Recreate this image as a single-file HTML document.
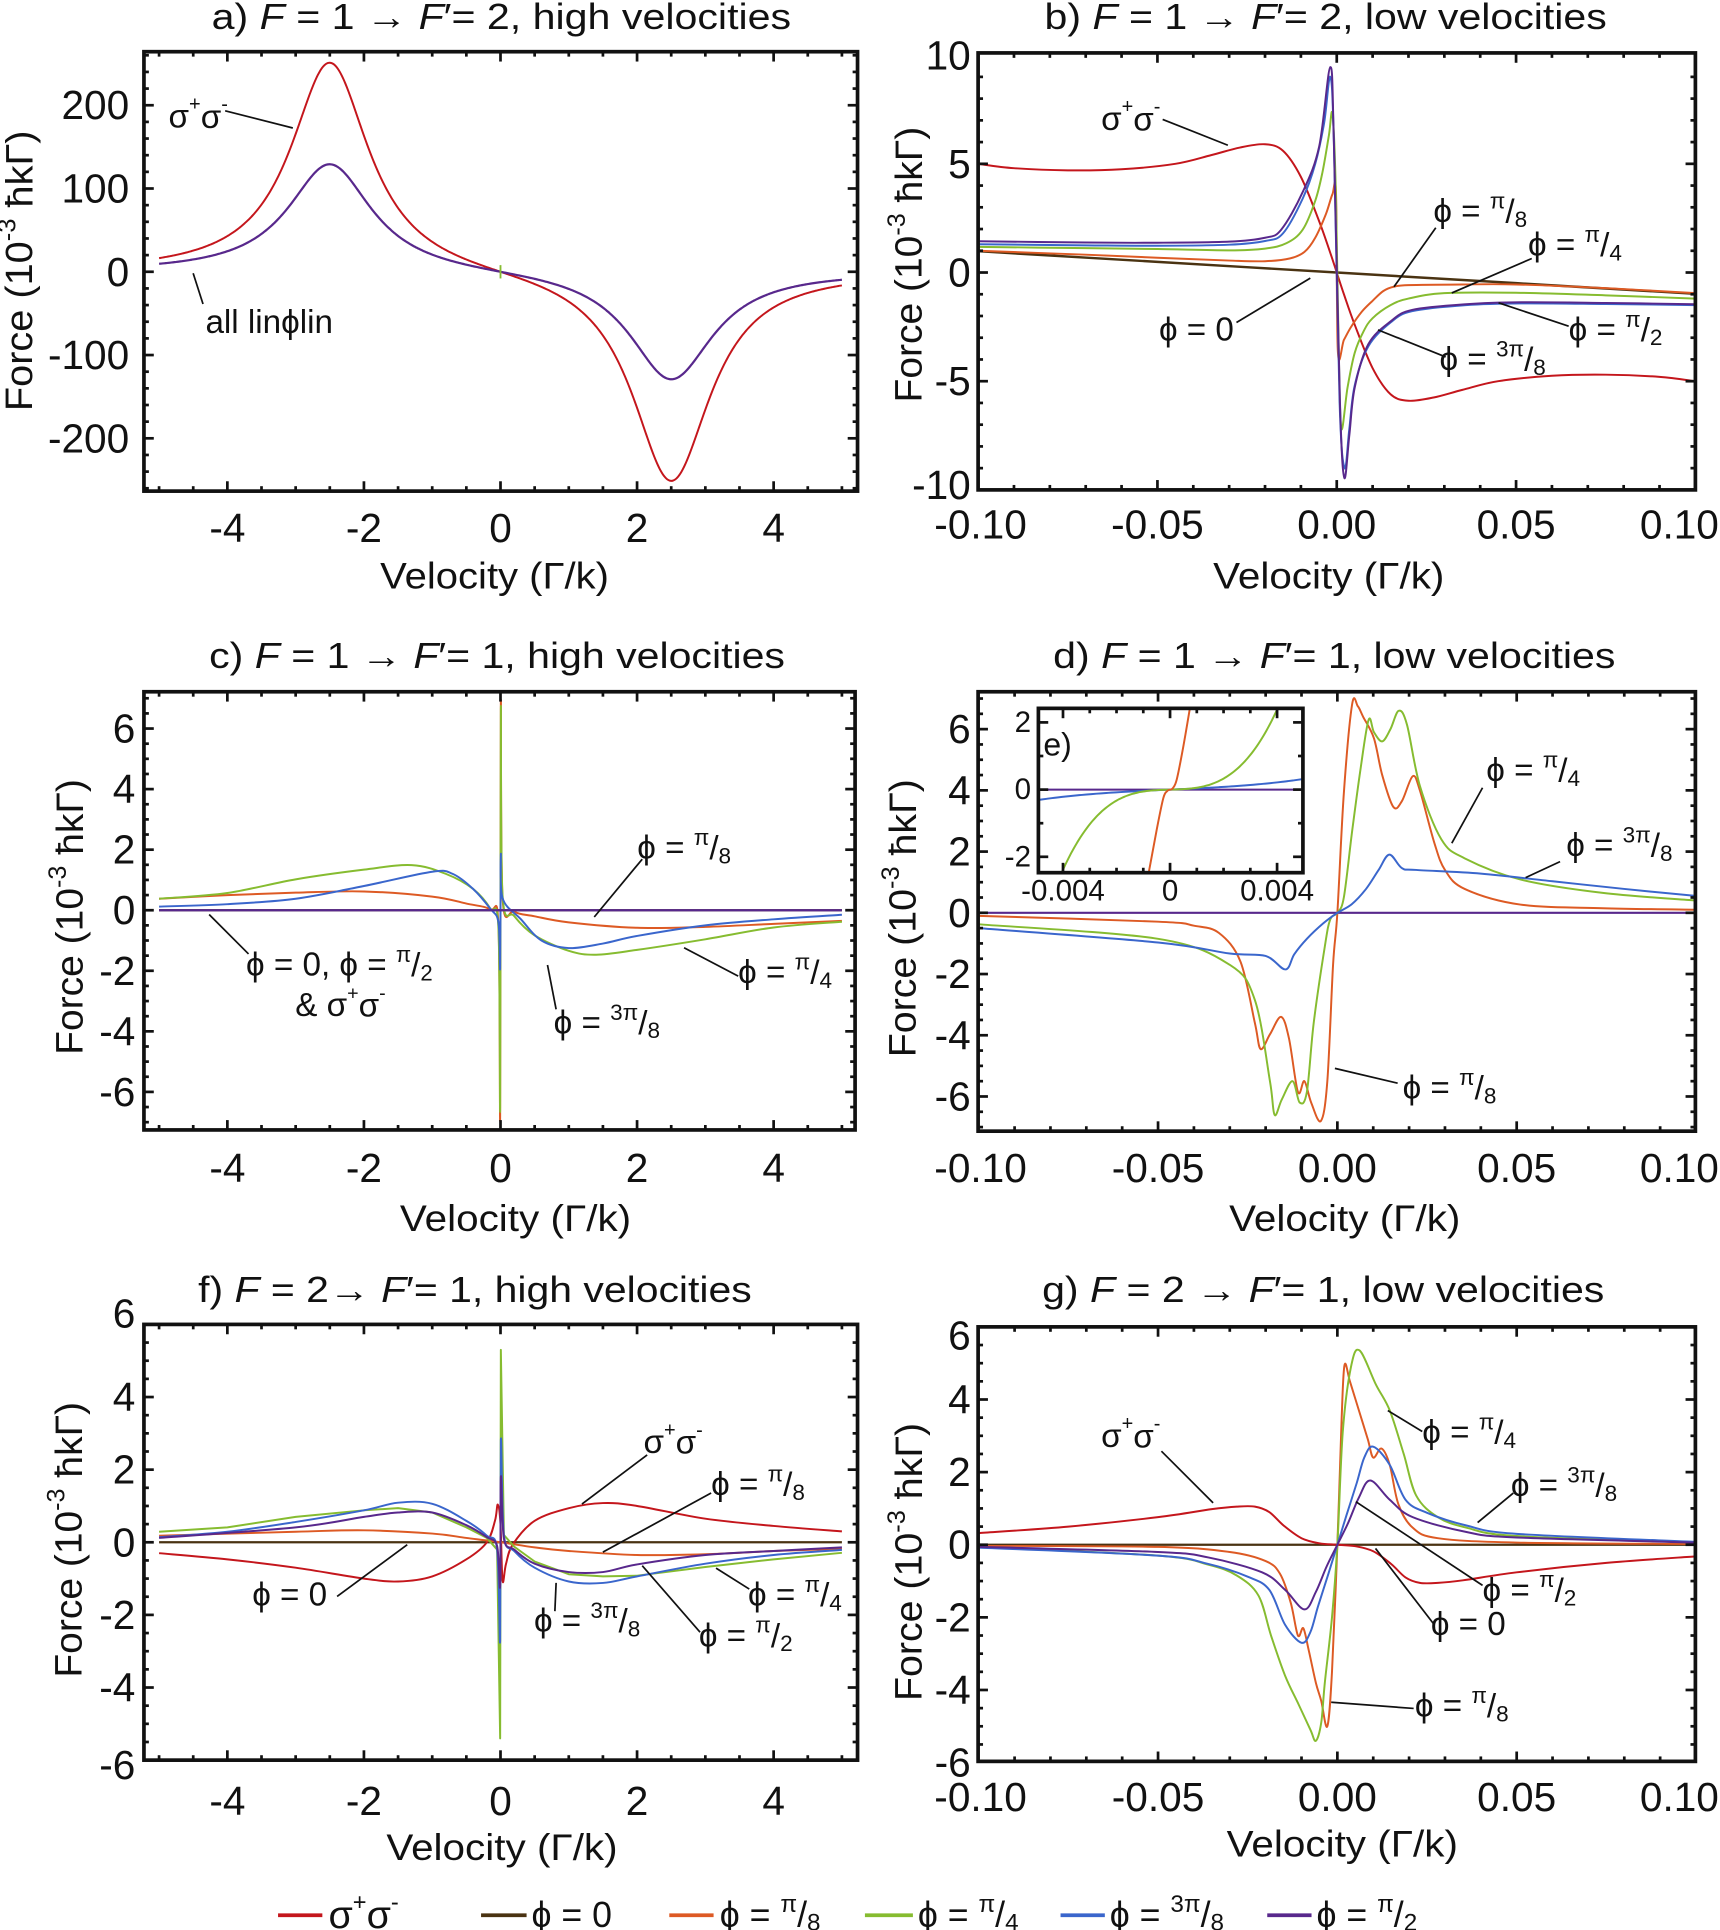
<!DOCTYPE html>
<html><head><meta charset="utf-8"><style>
html,body{margin:0;padding:0;background:#fff;}
svg{display:block;}
text{font-family:"Liberation Sans",Arial,sans-serif;fill:#111;}
</style></head><body>
<svg id="s" width="1720" height="1930" viewBox="0 0 1398 1568" preserveAspectRatio="none" xmlns="http://www.w3.org/2000/svg">
<defs id="defs"></defs>
<g id="g"></g>
</svg>
<script>
const NS="http://www.w3.org/2000/svg";
const G=document.getElementById('g'), D=document.getElementById('defs');
function el(t,a,p){const e=document.createElementNS(NS,t);for(const k in a)e.setAttribute(k,a[k]);(p||G).appendChild(e);return e;}
const C={red:"#c4161c",brown:"#4a3312",orange:"#dd5a24",green:"#86bc30",blue:"#3a66cc",purple:"#58288c"};
function panel(o){
  o.X=v=>o.x0+v*o.sx; o.Y=v=>o.y0-v*o.sy; return o;
}
function path(P,pts,col,w,par,smooth=true){
  const p=pts.map(q=>[P.X(q[0]),P.Y(q[1])]);
  let d="M"+p[0][0].toFixed(2)+","+p[0][1].toFixed(2);
  for(let i=0;i<p.length-1;i++){
    if(!smooth){d+="L"+p[i+1][0].toFixed(2)+","+p[i+1][1].toFixed(2);continue;}
    const a=p[Math.max(0,i-1)],b=p[i],c=p[i+1],e=p[Math.min(p.length-1,i+2)];
    const c1=[b[0]+(c[0]-a[0])/6,b[1]+(c[1]-a[1])/6],c2=[c[0]-(e[0]-b[0])/6,c[1]-(e[1]-b[1])/6];
    d+="C"+c1.map(v=>v.toFixed(2))+" "+c2.map(v=>v.toFixed(2))+" "+c[0].toFixed(2)+","+c[1].toFixed(2);
  }
  el('path',{d:d,fill:'none',stroke:col,'stroke-width':w||1.5,'clip-path':'url(#'+P.id+')','stroke-linejoin':'round'},par);
}
function fn(f,a,b,n){const r=[];for(let i=0;i<=n;i++){const x=a+(b-a)*i/n;r.push([x,f(x)]);}return r;}
function frame(P){
  const [l,t,r,b]=P.f;
  const cp=el('clipPath',{id:P.id},D); el('rect',{x:l,y:t,width:r-l,height:b-t},cp);
}
function drawFrame(P,xt,xminor,yt,yminor,fs,xly,yfix,ylabx,fmt,xfix){
  const [l,t,r,b]=P.f;
  el('rect',{x:l,y:t,width:r-l,height:b-t,fill:'none',stroke:'#111','stroke-width':3});
  const eps=1e-9;
  for(let v=xminor[0];v<=xminor[1]+eps;v+=xminor[2]){
    const X=P.X(v); if(X<l+2||X>r-2)continue;
    const maj=xt.some(m=>Math.abs(m-v)<xminor[2]/3); const L=maj?8:4;
    el('line',{x1:X,y1:b,x2:X,y2:b-L,stroke:'#111','stroke-width':2.2});
    el('line',{x1:X,y1:t,x2:X,y2:t+L,stroke:'#111','stroke-width':2.2});
  }
  for(let v=yminor[0];v<=yminor[1]+eps;v+=yminor[2]){
    const Y=P.Y(v); if(Y<t+2||Y>b-2)continue;
    const maj=yt.some(m=>Math.abs(m-v)<yminor[2]/3); const L=maj?8:4;
    el('line',{x1:l,y1:Y,x2:l+L,y2:Y,stroke:'#111','stroke-width':2.2});
    el('line',{x1:r,y1:Y,x2:r-L,y2:Y,stroke:'#111','stroke-width':2.2});
  }
  xt.forEach(v=>{const s=fmt?fmt(v):String(v);
    const X=(xfix&&xfix[v]!==undefined)?xfix[v]:P.X(v);
    el('text',{x:X,y:xly,'font-size':fs,'text-anchor':'middle','dominant-baseline':'central'}).textContent=s;});
  yt.forEach(v=>{const Y=(yfix&&yfix[v]!==undefined)?yfix[v]:P.Y(v);
    el('text',{x:ylabx,y:Y,'font-size':fs,'text-anchor':'end','dominant-baseline':'central'}).textContent=String(v);});
}
function title(x1,x2,y,html){
  const t=el('text',{x:x1,y:y,'font-size':29,'dominant-baseline':'central',textLength:x2-x1,lengthAdjust:'spacingAndGlyphs'});
  t.innerHTML=html;
}
function T(lbl,a,b,rest,arrowSp){return lbl+' <tspan font-style="italic">F</tspan> = '+a+(arrowSp===false?'→ ':' → ')+'<tspan font-style="italic">F</tspan>′= '+b+', '+rest;}
function xlabel(x1,x2,y){el('text',{x:x1,y:y,'font-size':30,'dominant-baseline':'central',textLength:x2-x1,lengthAdjust:'spacingAndGlyphs'}).textContent="Velocity (Γ/k)";}
function ylabel(cx,cy,len){
  const t=el('text',{x:0,y:0,'font-size':31,'text-anchor':'middle','dominant-baseline':'central',transform:`translate(${cx},${cy}) rotate(-90)`,textLength:len,lengthAdjust:'spacingAndGlyphs'});
  t.innerHTML='Force (10<tspan font-size="20" dy="-10">-3</tspan><tspan dy="10"> ħkΓ)</tspan>';
}
function phi(x,y,num,den,fs){fs=fs||27;
  const t=el('text',{x:x,y:y,'font-size':fs,'dominant-baseline':'central'});
  if(den===null){t.textContent='ϕ = '+num;return t;}
  t.innerHTML='ϕ = <tspan font-size="'+(fs*0.68)+'" dy="-9">'+num+'</tspan><tspan dy="9">/</tspan><tspan font-size="'+(fs*0.68)+'" dy="6">'+den+'</tspan>';
  return t;
}
function sig(x,y,fs){fs=fs||27;const t=el('text',{x:x,y:y,'font-size':fs,'dominant-baseline':'central'});
  t.innerHTML='σ<tspan font-size="'+(fs*0.6)+'" dy="-10">+</tspan><tspan dy="10">σ</tspan><tspan font-size="'+(fs*0.6)+'" dy="-10">-</tspan>';}
function lead(x1,y1,x2,y2){el('line',{x1,y1,x2,y2,stroke:'#111','stroke-width':1.4});}
function sym(pts){const r=pts.slice(); for(let i=pts.length-1;i>=0;i--){if(pts[i][0]<0)r.push([-pts[i][0],-pts[i][1]]);} return r;}
const rfix={'-0.1':797,'0.1':1365};
const f2=v=>v.toFixed(2);

// ---------- Panel a ----------
const A=panel({id:'ca',x0:406.8,sx:55.5,y0:220.8,sy:0.6765,f:[117,42,697,399]});
frame(A);
const L=(u,w)=>1/(1+(u/w)*(u/w));
path(A,fn(v=>256*(L(v+2.5,0.7)-L(v-2.5,0.7)),-5,5,400),C.red,1.6);
path(A,fn(v=>132*(L(v+2.5,0.75)-L(v-2.5,0.75)),-5,5,400),C.purple,1.8);
path(A,[[0,8],[0,-8]],C.green,1.5,null,false);
drawFrame(A,[-4,-2,0,2,4],[-5,5,0.5],[200,100,0,-100,-200],[-260,260,20],33,429,null,105);
title(172,643,14,T('a)','1','2','high velocities'));
xlabel(309,495,468); ylabel(16,220,228);
sig(137,95); lead(183,90,238,104);
el('text',{x:167,y:262,'font-size':27,'dominant-baseline':'central'}).textContent='all linϕlin';
lead(157,222,165,247);

// ---------- Panel b ----------
const B=panel({id:'cb',x0:1086.5,sx:2915,y0:221.4,sy:17.66,f:[795,43,1378,398]});
frame(B);
path(B,fn(v=>-9.8*v,-0.1,0.1,4),C.brown,2);
path(B,sym([[-0.1,5.0],[-0.09,4.8],[-0.075,4.7],[-0.06,4.75],[-0.045,5.0],[-0.035,5.4],[-0.027,5.75],[-0.02,5.9],[-0.015,5.6],[-0.01,4.4],[-0.005,2.4],[-0.002,1.0],[0,0]]),C.red,1.6);
path(B,[[-0.1,1.0],[-0.07,0.82],[-0.05,0.68],[-0.03,0.55],[-0.02,0.52],[-0.013,0.65],[-0.009,0.95],[-0.006,1.6],[-0.003,2.7],[-0.0012,3.6],[-0.0002,3.6],[0.0003,-3.6],[0.002,-3.1],[0.004,-2.5],[0.007,-1.8],[0.01,-1.3],[0.013,-0.85],[0.016,-0.65],[0.02,-0.58],[0.035,-0.55],[0.05,-0.55],[0.075,-0.72],[0.1,-0.95]],C.orange,1.6);
path(B,[[-0.1,1.18],[-0.07,1.12],[-0.05,1.08],[-0.03,1.02],[-0.02,1.1],[-0.014,1.35],[-0.0095,1.97],[-0.006,3.3],[-0.004,4.6],[-0.0022,6.3],[-0.0012,7.3],[-0.0003,4],[0.0006,-4],[0.0013,-7.2],[0.003,-5.3],[0.005,-3.7],[0.0075,-2.7],[0.01,-2.1],[0.015,-1.5],[0.02,-1.2],[0.03,-0.95],[0.05,-0.93],[0.075,-1.05],[0.1,-1.2]],C.green,1.6);
path(B,[[-0.1,1.3],[-0.07,1.25],[-0.05,1.23],[-0.03,1.28],[-0.02,1.45],[-0.015,1.8],[-0.0095,3.4],[-0.006,5.0],[-0.0035,6.9],[-0.0018,9.0],[-0.0008,6],[0.0008,-6],[0.0022,-9.0],[0.0035,-7.2],[0.005,-5.2],[0.0088,-3.4],[0.015,-2.3],[0.021,-1.78],[0.036,-1.5],[0.0515,-1.42],[0.075,-1.45],[0.1,-1.5]],C.blue,1.6);
path(B,[[-0.1,1.44],[-0.07,1.38],[-0.05,1.37],[-0.03,1.42],[-0.02,1.6],[-0.0155,1.97],[-0.0095,3.7],[-0.0049,5.8],[-0.0018,9.45],[-0.0008,6],[0.0009,-6],[0.0021,-9.44],[0.0035,-7.5],[0.005,-5.3],[0.0088,-3.3],[0.015,-2.25],[0.021,-1.72],[0.036,-1.46],[0.0515,-1.37],[0.075,-1.4],[0.1,-1.46]],C.purple,1.6);
drawFrame(B,[-0.1,-0.05,0,0.05,0.1],[-0.1,0.1,0.01],[10,5,0,-5,-10],[-10,10,1],33,426,{10:45,'-10':394},789,f2,rfix);
title(849,1306,14,T('b)','1','2','low velocities'));
xlabel(986,1174,468); ylabel(739,215,224);
sig(895,97); lead(945,97,998,118);
phi(1165,172,'π','8'); lead(1167,185,1133,233);
phi(1242,199,'π','4'); lead(1245,210,1180,238);
phi(942,268,'0',null); lead(1005,262,1065,226);
phi(1275,268,'π','2'); lead(1275,265,1218,246);
phi(1170,292,'3π','8'); lead(1175,290,1120,268);

// ---------- Panel c ----------
const Cc=panel({id:'cc',x0:406.8,sx:55.5,y0:739.5,sy:24.6,f:[117,562,695,918]});
frame(Cc);
path(Cc,[[-5,0],[5,0]],C.brown,1.8,null,false);
path(Cc,[[-5,0.38],[-4,0.5],[-3,0.58],[-2,0.62],[-1,0.45],[-0.5,0.22],[-0.15,0.02],[-0.03,-0.5],[-0.005,-6.8],[0.005,6.8],[0.03,0.4],[0.2,-0.05],[0.5,-0.2],[1,-0.4],[2,-0.58],[3,-0.55],[4,-0.45],[5,-0.35]],C.orange,1.6);
path(Cc,[[-5,0.38],[-4,0.57],[-3,1.02],[-2,1.34],[-1.3,1.49],[-0.8,1.2],[-0.4,0.7],[-0.15,0.06],[-0.03,-0.6],[-0.005,-6.5],[0.005,6.6],[0.03,0.5],[0.2,-0.19],[0.5,-0.83],[1,-1.34],[1.4,-1.47],[2,-1.31],[3,-0.96],[4,-0.57],[5,-0.38]],C.green,1.6);
path(Cc,[[-5,0.12],[-4,0.2],[-3,0.38],[-2,0.8],[-1,1.27],[-0.7,1.2],[-0.4,0.7],[-0.15,0.05],[-0.03,-0.4],[-0.005,-1.9],[0.005,1.8],[0.03,0.4],[0.3,-0.3],[0.6,-1.0],[1,-1.25],[1.5,-1.1],[2,-0.85],[3,-0.5],[4,-0.3],[5,-0.15]],C.blue,1.6);
path(Cc,[[-5,0],[5,0]],C.purple,1.8,null,false);
drawFrame(Cc,[-4,-2,0,2,4],[-5,5,0.5],[6,4,2,0,-2,-4,-6],[-7,7,0.5],33,949,null,110);
title(170,638,533,T('c)','1','1','high velocities'));
xlabel(325,513,990); ylabel(57,745,224);
phi(518,689,'π','8'); lead(522,698,483,745);
{const t=el('text',{x:200,y:784,'font-size':27,'dominant-baseline':'central'});t.innerHTML='ϕ = 0, ϕ = <tspan font-size="18" dy="-9">π</tspan><tspan dy="9">/</tspan><tspan font-size="18" dy="6">2</tspan>';}
{const t=el('text',{x:240,y:817,'font-size':27,'dominant-baseline':'central'});t.innerHTML='&amp; σ<tspan font-size="16" dy="-10">+</tspan><tspan dy="10">σ</tspan><tspan font-size="16" dy="-10">-</tspan>';}
lead(202,775,170,743);
phi(600,790,'π','4'); lead(600,793,556,770);
phi(450,831,'3π','8'); lead(452,820,445,784);

// ---------- Panel d ----------
const Dp=panel({id:'cd',x0:1087,sx:2915,y0:741.6,sy:24.87,f:[795,562,1378,919]});
frame(Dp);
path(Dp,[[-0.1,0],[0.1,0]],C.purple,1.8,null,false);
path(Dp,[[-0.1,-0.1],[-0.05,-0.29],[-0.04,-0.42],[-0.033,-0.66],[-0.027,-1.6],[-0.023,-3.6],[-0.0214,-4.45],[-0.0188,-3.97],[-0.0157,-3.4],[-0.0135,-4.1],[-0.011,-5.85],[-0.0092,-5.5],[-0.0073,-6.2],[-0.0046,-6.8],[-0.0028,-5.5],[-0.0012,-1.7],[0,0],[0.0018,3.9],[0.0041,6.8],[0.0057,6.75],[0.0072,6.4],[0.0102,5.7],[0.0125,4.5],[0.0156,3.46],[0.018,3.65],[0.021,4.46],[0.023,4.0],[0.027,2.3],[0.03,1.4],[0.0355,0.78],[0.051,0.27],[0.074,0.15],[0.1,0.1]],C.orange,1.6);
path(Dp,[[-0.1,-0.375],[-0.05,-0.85],[-0.03,-1.7],[-0.023,-2.85],[-0.0188,-5.5],[-0.0175,-6.6],[-0.0155,-6.1],[-0.0125,-5.5],[-0.0105,-6.2],[-0.0085,-5.85],[-0.0066,-3.6],[-0.0035,-1.1],[-0.002,-0.22],[0,0],[0.0018,0.5],[0.0041,2.65],[0.0064,4.65],[0.0087,6.3],[0.0102,5.9],[0.0125,5.6],[0.0148,6.0],[0.0171,6.6],[0.0194,6.15],[0.023,4.15],[0.029,2.4],[0.0355,1.78],[0.051,1.09],[0.074,0.65],[0.1,0.4]],C.green,1.6);
path(Dp,[[-0.1,-0.5],[-0.05,-0.97],[-0.03,-1.33],[-0.02,-1.41],[-0.0145,-1.85],[-0.012,-1.35],[-0.0085,-0.85],[-0.004,-0.35],[0,0],[0.004,0.28],[0.008,0.78],[0.0115,1.4],[0.0145,1.9],[0.018,1.46],[0.022,1.4],[0.04,1.28],[0.06,1.03],[0.08,0.78],[0.1,0.55]],C.blue,1.6);
drawFrame(Dp,[-0.1,-0.05,0,0.05,0.1],[-0.1,0.1,0.01],[6,4,2,0,-2,-4,-6],[-7,7,0.5],33,949,null,789,f2,rfix);
title(856,1313,533,T('d)','1','1','low velocities'));
xlabel(999,1187,990); ylabel(734,746,226);
phi(1208,626,'π','4'); lead(1205,640,1180,685);
phi(1273,687,'3π','8'); lead(1268,700,1240,713);
phi(1140,884,'π','8'); lead(1136,880,1085,868);
// inset e
const E=panel({id:'ce',x0:951,sx:21750,y0:641.5,sy:27.3,f:[844,575.5,1059,709]});
el('rect',{x:844,y:575.5,width:215,height:133.5,fill:'#fff'});
frame(E);
path(E,[[-0.006,0],[0.006,0]],C.purple,1.6,null,false);
path(E,fn(v=>36*v+1.1e6*v*v*v,-0.0055,0.0055,60),C.blue,1.6);
path(E,fn(v=>20*v+3.6e7*v*v*v,-0.0045,0.0045,90),C.green,1.6);
path(E,[[-0.001,-3.2],[-0.00085,-2.7],[-0.0005,-1.2],[-0.00025,-0.25],[-0.0001,-0.04],[0,0],[0.0001,0.04],[0.00025,0.3],[0.0005,1.3],[0.0008,2.7],[0.0009,3.2]],C.orange,1.6);
drawFrame(E,[-0.004,0,0.004],[-0.005,0.005,0.001],[2,0,-2],[-3,3,1],24,724,null,838,v=>v===0?'0':v.toFixed(3));
el('text',{x:848,y:605,'font-size':26,'dominant-baseline':'central'}).textContent='e)';

// ---------- Panel f ----------
const F=panel({id:'cf',x0:406.8,sx:55.5,y0:1253,sy:29.5,f:[117,1076,697,1430]});
frame(F);
path(F,[[-5,0],[5,0]],C.brown,1.8,null,false);
path(F,[[-5,-0.3],[-4,-0.47],[-3,-0.7],[-2,-1.0],[-1.5,-1.08],[-1,-0.94],[-0.5,-0.47],[-0.2,0],[-0.08,0.6],[-0.04,1.04],[0,0.5],[0.03,-1.06],[0.08,-0.6],[0.18,-0.06],[0.5,0.59],[1,0.94],[1.5,1.08],[2,1.0],[3,0.65],[4,0.45],[5,0.3]],C.red,1.6);
path(F,[[-5,0.18],[-3,0.29],[-2,0.33],[-1,0.24],[-0.5,0.12],[0,0],[0.5,-0.14],[1,-0.24],[2,-0.35],[3,-0.33],[4,-0.24],[5,-0.18]],C.orange,1.6);
path(F,[[-5,0.29],[-4,0.41],[-3,0.7],[-2,0.88],[-1.5,0.94],[-1,0.82],[-0.5,0.41],[-0.2,0.12],[-0.05,-0.2],[-0.005,-5.4],[0.005,5.3],[0.05,0.2],[0.2,-0.12],[0.5,-0.53],[1,-0.88],[1.5,-0.94],[2,-0.92],[3,-0.68],[4,-0.47],[5,-0.29]],C.green,1.6,null,false);
path(F,[[-5,0.14],[-4,0.29],[-3,0.56],[-2,0.88],[-1.5,1.09],[-1,1.06],[-0.5,0.59],[-0.2,0.18],[-0.05,-0.2],[-0.005,-2.7],[0.005,2.8],[0.05,0.2],[0.2,-0.24],[0.5,-0.7],[1,-1.08],[1.5,-1.12],[2,-0.94],[3,-0.59],[4,-0.35],[5,-0.21]],C.blue,1.6);
path(F,[[-5,0.12],[-3,0.41],[-2,0.7],[-1.5,0.82],[-1,0.82],[-0.5,0.47],[-0.2,0.14],[-0.05,-0.1],[-0.005,-1.2],[0.005,1.8],[0.05,0.1],[0.2,-0.2],[0.5,-0.59],[1,-0.82],[1.5,-0.82],[2,-0.61],[3,-0.35],[4,-0.24],[5,-0.14]],C.purple,1.6);
drawFrame(F,[-4,-2,0,2,4],[-5,5,0.5],[6,4,2,0,-2,-4,-6],[-6,6,0.5],33,1463,{6:1067,'-6':1434},110);
title(161,611,1048,T('f)','2','1','high velocities',false));
xlabel(314,502,1501); ylabel(56,1251,224);
sig(523,1172); lead(526,1182,473,1222);
phi(578,1206,'π','8'); lead(578,1213,490,1261);
phi(205,1296,'0',null); lead(274,1297,331,1255);
phi(434,1317,'3π','8'); lead(451,1309,452,1286);
phi(568,1329,'π','2'); lead(569,1326,522,1272);
phi(608,1296,'π','4'); lead(609,1291,582,1274);

// ---------- Panel g ----------
const Gp=panel({id:'cg',x0:1087,sx:2915,y0:1255,sy:29.5,f:[795,1078,1378,1431]});
frame(Gp);
path(Gp,[[-0.1,0],[0.1,0]],C.brown,1.8,null,false);
path(Gp,sym([[-0.1,0.32],[-0.075,0.5],[-0.05,0.76],[-0.035,0.98],[-0.028,1.05],[-0.023,1.05],[-0.019,0.9],[-0.015,0.53],[-0.01,0.18],[-0.005,0.04],[0,0]]),C.red,1.6);
path(Gp,[[-0.1,-0.03],[-0.05,-0.06],[-0.03,-0.2],[-0.02,-0.45],[-0.016,-0.8],[-0.013,-1.6],[-0.011,-2.5],[-0.0095,-2.3],[-0.008,-2.9],[-0.006,-3.8],[-0.0045,-4.3],[-0.0028,-5.0],[-0.0015,-3.5],[0,0],[0.0012,3.5],[0.002,4.95],[0.0035,4.5],[0.006,3.7],[0.0085,2.9],[0.01,2.4],[0.0123,2.65],[0.0146,2.2],[0.017,1.12],[0.021,0.47],[0.028,0.18],[0.05,0.06],[0.1,0.02]],C.orange,1.6);
path(Gp,[[-0.1,-0.06],[-0.05,-0.3],[-0.036,-0.55],[-0.028,-0.85],[-0.022,-1.4],[-0.0185,-2.5],[-0.0146,-3.6],[-0.0108,-4.4],[-0.0075,-5.1],[-0.006,-5.4],[-0.0045,-4.9],[-0.0035,-3.8],[-0.0015,-2.0],[0,0],[0.0015,3.1],[0.0038,4.9],[0.0062,5.35],[0.0108,4.4],[0.0146,3.7],[0.0185,2.5],[0.022,1.35],[0.028,0.76],[0.036,0.47],[0.05,0.24],[0.1,0.06]],C.green,1.6);
path(Gp,sym([[-0.1,-0.08],[-0.05,-0.3],[-0.036,-0.53],[-0.025,-0.88],[-0.019,-1.24],[-0.0146,-2.2],[-0.01,-2.7],[-0.0075,-2.4],[-0.0054,-1.7],[-0.0025,-0.8],[0,0]]),C.blue,1.6);
path(Gp,[[-0.1,-0.06],[-0.05,-0.2],[-0.036,-0.35],[-0.021,-0.76],[-0.0146,-1.24],[-0.0092,-1.78],[-0.006,-1.3],[-0.003,-0.6],[0,0],[0.003,0.6],[0.006,1.3],[0.0092,1.77],[0.0146,1.24],[0.021,0.76],[0.036,0.35],[0.05,0.2],[0.1,0.06]],C.purple,1.6);
drawFrame(Gp,[-0.1,-0.05,0,0.05,0.1],[-0.1,0.1,0.01],[6,4,2,0,-2,-4,-6],[-6,6,0.5],33,1460,{6:1085,'-6':1432},789,f2,rfix);
title(847,1304,1048,T('g)','2','1','low velocities'));
xlabel(997,1185,1498); ylabel(739,1269,226);
sig(895,1167); lead(944,1179,986,1221);
phi(1156,1164,'π','4'); lead(1156,1163,1128,1146);
phi(1228,1207,'3π','8'); lead(1230,1213,1201,1237);
phi(1205,1292,'π','2'); lead(1205,1288,1102,1220);
phi(1163,1320,'0',null); lead(1165,1319,1118,1258);
phi(1150,1386,'π','8'); lead(1149,1388,1082,1383);

// ---------- Legend ----------
const LY=1556;
[[226,262,C.red],[391,428,C.brown],[544,580,C.orange],[703,742,C.green],[862,898,C.blue],[1030,1066,C.purple]].forEach(a=>el('line',{x1:a[0],y1:LY,x2:a[1],y2:LY,stroke:a[2],'stroke-width':3}));
sig(267,LY,32);
phi(432,LY,'0',null,29);
phi(585,LY,'π','8',29);
phi(746,LY,'π','4',29);
phi(902,LY,'3π','8',29);
phi(1070,LY,'π','2',29);
</script>
</body></html>
